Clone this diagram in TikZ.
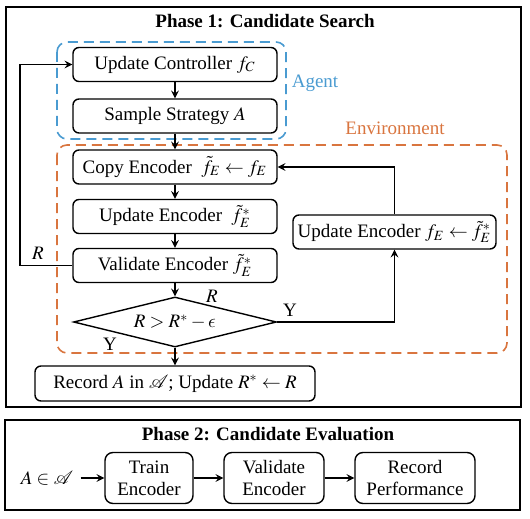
\documentclass[tikz,border=0pt]{standalone}
\usepackage{amsmath}
\usepackage{mathptmx}
\usepackage[no-math]{fontspec}
\setmainfont{Liberation Serif}
\newfontfamily\lmmath{Latin Modern Math}
\usepackage{tikz}
\usetikzlibrary{arrows,positioning,shapes.geometric}

\definecolor{agentblue}{RGB}{74,155,209}
\definecolor{envorange}{RGB}{217,117,63}
\newcommand{\eps}{\text{\lmmath 𝜖}}

\begin{document}
\begin{tikzpicture}[x=0.5pt,y=-0.5pt,>=stealth,line width=0.7pt,font=\fontsize{9.5}{11}\selectfont]
\tikzstyle{step box} = [draw=black,rounded corners=3pt,minimum width=102pt,minimum height=17pt,inner sep=0.5pt]
\tikzstyle{eval box} = [draw=black,rounded corners=4pt,minimum height=25.5pt,align=center,inner sep=1pt]
\tikzstyle{check} = [diamond,draw=black,aspect=4,minimum width=101.5pt,minimum height=25pt,inner sep=0pt]
\tikzstyle{phase} = [draw=black,line width=1pt]
\tikzstyle{group} = [dashed,dash pattern=on 5pt off 3pt,rounded corners=5pt,line width=0.8pt]
    \useasboundingbox (0,0) rectangle (530,519);

    % Phase 1
    \draw[phase] (6,7) rectangle (521,407);
    \node[font=\fontsize{9.5}{11}\selectfont\bfseries] (title1) at (265,21) {Phase 1: Candidate Search};
    \draw[group,agentblue] (57,42) rectangle (286,139);
    \draw[group,envorange] (57,145) rectangle (507,353);
    \node[text=agentblue] (agent) at (315,83) {Agent};
    \node[text=envorange] (env) at (395,128) {Environment};

    \node[step box] (ctrl) at (175,64.5) {Update Controller $f_C$};
    \node[step box] (sample) at (175,116) {Sample Strategy $A$};
    \node[step box] (copy) at (175,167) {Copy Encoder \ $\tilde{f}_E \leftarrow f_E$};
    \node[step box] (upd) at (175,216.5) {Update Encoder \ $\tilde{f}_E^{*}$};
    \node[step box] (val) at (175,265.5) {Validate Encoder $\tilde{f}_E^{*}$};
    \node[check] (cmp) at (175,322) {$R > R^{*} - \eps$};
    \node[step box,minimum width=140pt,minimum height=17.5pt] (rec) at (175,383.5) {Record $A$ in $\mathcal{A}$; Update $R^{*} \leftarrow R$};
    \node[step box,minimum width=101.5pt] (keep) at (394.5,232) {Update Encoder $f_E \leftarrow \tilde{f}_E^{*}$};
    \coordinate (loop) at (20,265.5);

    \draw[->] (ctrl) -- (sample);
    \draw[->] (sample) -- (copy);
    \draw[->] (copy) -- (upd);
    \draw[->] (upd) -- (val);
    \draw[->] (val) -- (cmp);
    \draw[->] (cmp) -- (rec);
    \draw[->] (cmp.east) -| (keep.south);
    \draw[->] (keep.north) |- (copy.east);
    \draw[->] (val.west) -- (loop) |- (ctrl.west);

    \node (r1) at (38,253) {$R$};
    \node (r2) at (212,296) {$R$};
    \node (y1) at (290,310) {Y};
    \node (y2) at (110,344) {Y};

    % Phase 2
    \draw[phase] (5,420) rectangle (520,510);
    \node[font=\fontsize{9.5}{11}\selectfont\bfseries] (title2) at (268,434) {Phase 2: Candidate Evaluation};
    \node (input) at (47,478) {$A \in \mathcal{A}$};
    \node[eval box,minimum width=44pt] (train) at (149,478) {Train\\Encoder};
    \node[eval box,minimum width=50pt] (valid) at (274,478) {Validate\\Encoder};
    \node[eval box,minimum width=60pt] (perf) at (415,478) {Record\\Performance};

    \draw[->] (input) -- (train);
    \draw[->] (train) -- (valid);
    \draw[->] (valid) -- (perf);
\end{tikzpicture}
\end{document}
